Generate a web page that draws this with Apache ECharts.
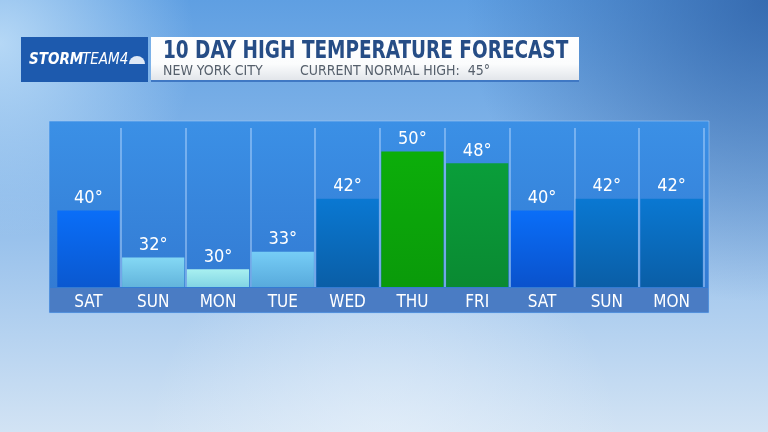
<!DOCTYPE html>
<html>
<head>
<meta charset="utf-8">
<title>10 Day High Temperature Forecast</title>
<script src="https://cdn.jsdelivr.net/npm/echarts@6/dist/echarts.min.js"></script>
<style>
  html, body { margin: 0; padding: 0; }
  #main { width: 768px; height: 432px; }
</style>
</head>
<body>
<div id="main"></div>
<script>
// forecast data
var days = ['SAT', 'SUN', 'MON', 'TUE', 'WED', 'THU', 'FRI', 'SAT', 'SUN', 'MON'];
var highs = [40, 32, 30, 33, 42, 50, 48, 40, 42, 42];
var normalHigh = 45;

// bar colours (top, bottom) per day
var barColors = [
  ['#0a6ef8', '#0a58d0'],
  ['#84d8f4', '#62b4dc'],
  ['#a8f0f0', '#82d4e4'],
  ['#76cdf6', '#58aadc'],
  ['#0a78d2', '#0a5ea6'],
  ['#0cae0a', '#0a9a0a'],
  ['#0a9e3a', '#0a8a32'],
  ['#0a6ef8', '#0a52cc'],
  ['#0a78d2', '#0a5ea6'],
  ['#0a78d2', '#0a5ea6']
];

var fontC = '"DejaVu Sans Condensed", "DejaVu Sans", sans-serif';

function grad(c) {
  return new echarts.graphic.LinearGradient(0, 0, 0, 1, [
    { offset: 0, color: c[0] },
    { offset: 1, color: c[1] }
  ]);
}

var barData = highs.map(function (v, i) {
  return { value: v, itemStyle: { color: grad(barColors[i]) } };
});

var myChart = echarts.init(document.getElementById('main'));

var option = {
  animation: false,
  backgroundColor: new echarts.graphic.LinearGradient(0, 0, 0, 1, [
    { offset: 0, color: '#5f9fe2' },
    { offset: 0.45, color: '#8cbaea' },
    { offset: 1, color: '#d2e3f4' }
  ]),
  graphic: [
    // sky shading
    { type: 'rect', z: -100, shape: { x: 0, y: 0, width: 768, height: 432 },
      style: { fill: new echarts.graphic.RadialGradient(1, 0, 0.7, [
        { offset: 0, color: 'rgba(40,90,160,0.75)' },
        { offset: 1, color: 'rgba(40,90,160,0)' }
      ]) } },
    { type: 'rect', z: -100, shape: { x: 0, y: 0, width: 768, height: 432 },
      style: { fill: new echarts.graphic.RadialGradient(0, 0.1, 0.45, [
        { offset: 0, color: 'rgba(200,228,250,0.8)' },
        { offset: 1, color: 'rgba(200,228,250,0)' }
      ]) } },
    { type: 'rect', z: -100, shape: { x: 0, y: 0, width: 768, height: 432 },
      style: { fill: new echarts.graphic.RadialGradient(0.5, 1.05, 0.55, [
        { offset: 0, color: 'rgba(236,244,252,0.6)' },
        { offset: 1, color: 'rgba(236,244,252,0)' }
      ]) } },

    // header: logo box
    { type: 'rect', z: 10, shape: { x: 21, y: 37, width: 127, height: 45 },
      style: { fill: '#1d5aae' } },
    { type: 'text', z: 11, x: 29, y: 60,
      style: { text: 'STORM', fill: '#ffffff', font: 'italic bold 15px "DejaVu Sans Condensed", sans-serif', verticalAlign: 'middle' } },
    { type: 'text', z: 11, x: 82, y: 60,
      style: { text: 'TEAM4', fill: '#ffffff', font: 'italic 15px "DejaVu Sans Condensed", sans-serif', verticalAlign: 'middle' } },
    { type: 'sector', z: 11, shape: { cx: 137, cy: 64, r0: 0, r: 8, startAngle: Math.PI, endAngle: 2 * Math.PI },
      style: { fill: '#dfe9f6' } },

    // header: title box
    { type: 'rect', z: 10, shape: { x: 151, y: 37, width: 428, height: 45 },
      style: { fill: new echarts.graphic.LinearGradient(0, 0, 0, 1, [
        { offset: 0, color: '#ffffff' },
        { offset: 0.6, color: '#fbfcfd' },
        { offset: 1, color: '#dfe3e8' }
      ]) } },
    { type: 'rect', z: 11, shape: { x: 151, y: 80, width: 428, height: 2 },
      style: { fill: '#3f78c4' } },
    { type: 'text', z: 11, x: 163, y: 52, scaleX: 0.855,
      style: { text: '10 DAY HIGH TEMPERATURE FORECAST', fill: '#264d86', font: 'bold 24px ' + fontC, verticalAlign: 'middle' } },
    { type: 'text', z: 11, x: 163, y: 71,
      style: { text: 'NEW YORK CITY', fill: '#56606c', font: '14px ' + fontC, verticalAlign: 'middle' } },
    { type: 'text', z: 11, x: 300, y: 71,
      style: { text: 'CURRENT NORMAL HIGH:  ' + normalHigh + '°', fill: '#56606c', font: '14px ' + fontC, verticalAlign: 'middle' } },

    // chart panel
    { type: 'rect', z: -10, shape: { x: 49, y: 121, width: 660, height: 192 },
      style: { fill: new echarts.graphic.LinearGradient(0, 0, 0, 1, [
        { offset: 0, color: '#3b90e6' },
        { offset: 1, color: '#3278d0' }
      ]), stroke: 'rgba(160,200,245,0.6)', lineWidth: 1 } },
    { type: 'rect', z: -9, shape: { x: 50, y: 288, width: 658, height: 24 },
      style: { fill: '#4a7cc4' } }
  ],
  grid: { left: 56, right: 64, top: 128, bottom: 145 },
  xAxis: {
    type: 'category',
    data: days,
    axisLine: { show: false },
    axisTick: { show: false },
    splitLine: {
      show: true,
      interval: function (index) { return index > 0 && index < days.length; },
      lineStyle: { color: 'rgba(190,220,255,0.45)', width: 2 }
    },
    axisLabel: { color: '#ffffff', fontSize: 17, fontFamily: fontC, margin: 7 }
  },
  yAxis: {
    type: 'value',
    min: 27,
    max: 54,
    show: false
  },
  series: [{
    type: 'bar',
    data: barData,
    barCategoryGap: '4%',
    label: {
      show: true,
      position: 'top',
      distance: 3,
      color: '#ffffff',
      fontSize: 18,
      fontFamily: fontC,
      formatter: '{c}°'
    }
  }]
};

myChart.setOption(option);
</script>
</body>
</html>
